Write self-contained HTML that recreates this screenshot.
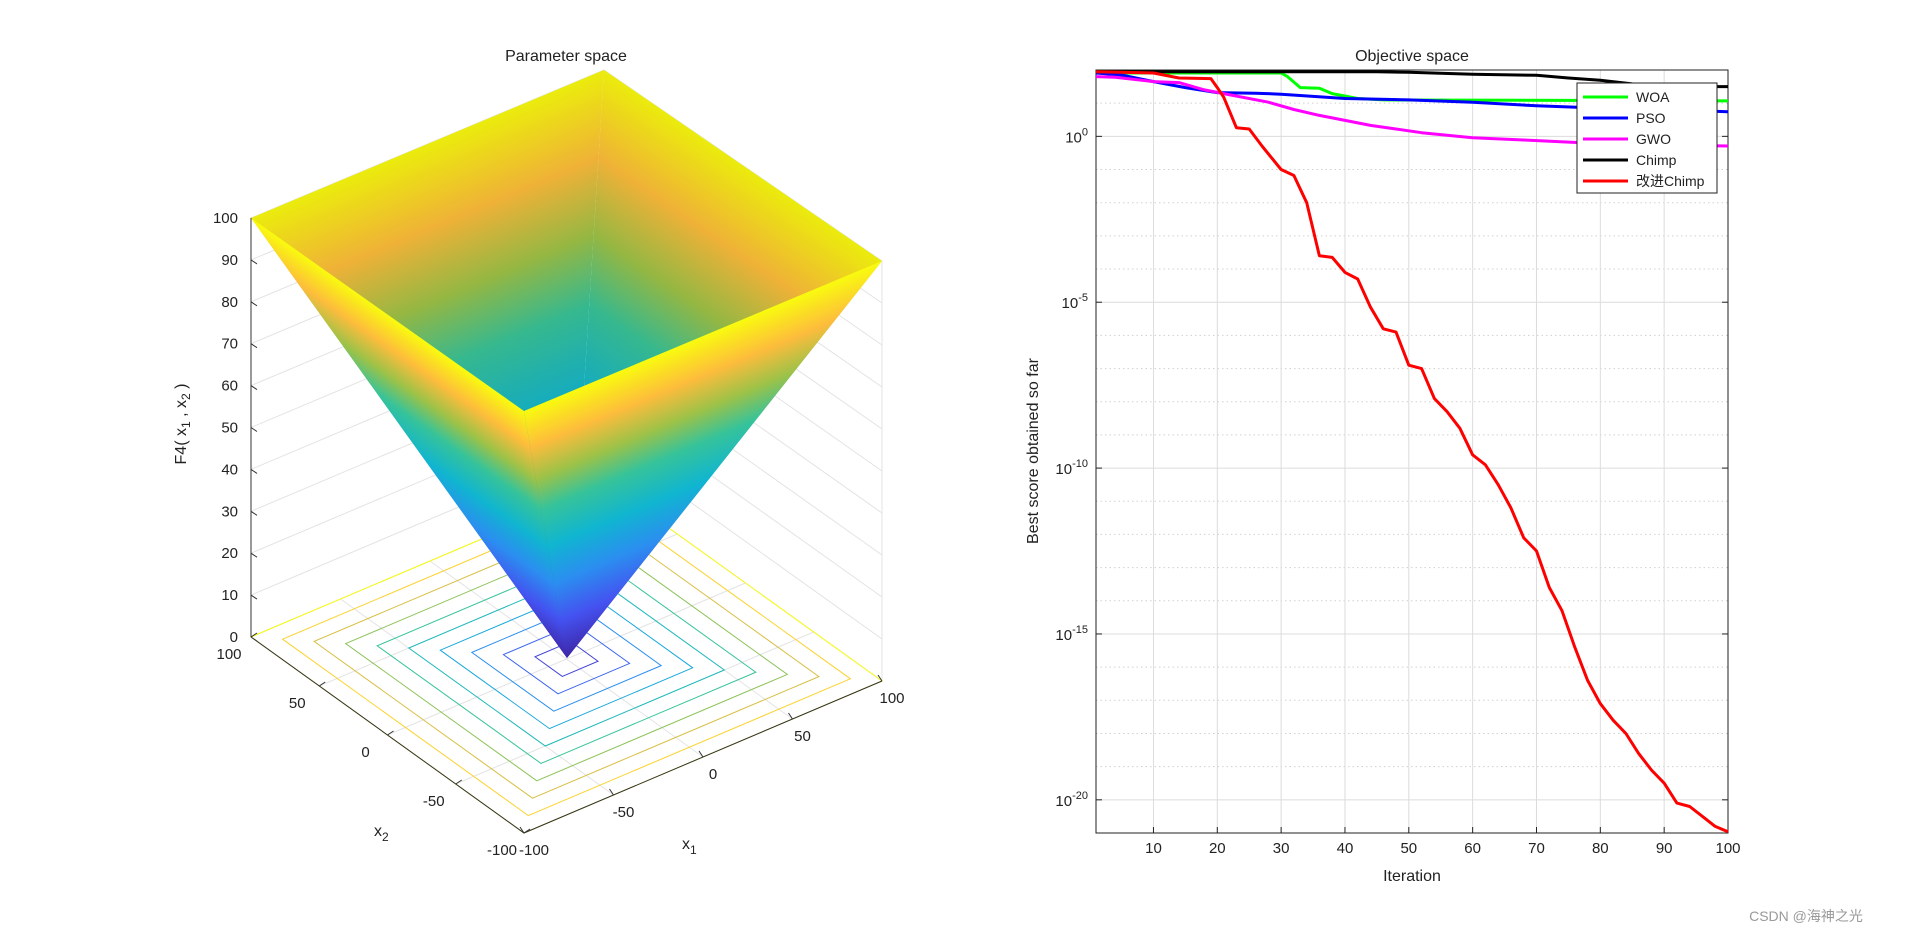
<!DOCTYPE html>
<html><head><meta charset="utf-8"><style>
html,body{margin:0;padding:0;background:#fff;}
svg{display:block;font-family:"Liberation Sans","Noto Sans CJK SC",sans-serif;}
</style></head><body>
<svg id="fig" width="1920" height="937" viewBox="0 0 1920 937" xmlns="http://www.w3.org/2000/svg">
<defs id="defs"></defs>
<g id="left"></g>
<g id="right"></g>
<text x="1806" y="921" font-size="14" fill="#999" text-anchor="middle">CSDN @海神之光</text>
</svg>
<script>
// ===== Convergence chart data =====
const iterWOA = [1,30,31,33,36,38,42,46,100];
const valWOA = [1.91,1.91,1.80,1.47,1.45,1.29,1.14,1.10,1.07];
const iterPSO = [1,5,10,15,20,26,30,40,50,60,70,80,90,100];
const valPSO = [1.91,1.85,1.65,1.47,1.32,1.30,1.27,1.14,1.10,1.03,0.92,0.85,0.81,0.74];
const iterGWO = [1,4,10,14,18,22,28,32,36,40,44,48,52,60,68,80,90,100];
const valGWO = [1.80,1.78,1.65,1.62,1.40,1.25,1.03,0.81,0.63,0.48,0.33,0.22,0.11,-0.04,-0.11,-0.22,-0.26,-0.29];
const iterChimp = [1,45,50,60,70,75,80,85,90,100];
const valChimp = [1.95,1.95,1.93,1.87,1.84,1.76,1.69,1.58,1.50,1.50];
const iterIChimp = [1,10,14,19,20,21,23,25,27,30,32,34,36,38,40,42,44,46,48,50,52,54,56,58,60,62,64,66,68,70,72,74,76,78,80,82,84,86,88,90,92,94,96,98,100];
const valIChimp = [1.95,1.91,1.76,1.74,1.47,1.18,0.26,0.22,-0.29,-1.0,-1.18,-2.0,-3.6,-3.65,-4.1,-4.3,-5.15,-5.8,-5.9,-6.9,-7.0,-7.9,-8.3,-8.8,-9.6,-9.9,-10.5,-11.2,-12.1,-12.5,-13.6,-14.3,-15.4,-16.4,-17.1,-17.6,-18.0,-18.6,-19.1,-19.5,-20.1,-20.2,-20.5,-20.8,-20.96];
const xTicks = [10,20,30,40,50,60,70,80,90,100];
const yTickExp = [0,-5,-10,-15,-20];
const seriesNames = ['WOA','PSO','GWO','Chimp','改进Chimp'];
const seriesColors = ['#00ff00','#0000ff','#ff00ff','#000000','#ff0000'];
// ===== 3D surface data =====
const zTicks = [0,10,20,30,40,50,60,70,80,90,100];
const x1Ticks = [-100,-50,0,50,100];
const x2Ticks = [-100,-50,0,50,100];
const contourLevels = [10,20,30,40,50,60,70,80,90,100];

const NS='http://www.w3.org/2000/svg';
function mk(tag,attrs,parent){const e=document.createElementNS(NS,tag);for(const k in attrs)e.setAttribute(k,attrs[k]);parent.appendChild(e);return e;}

// ---------- right chart ----------
const R=document.getElementById('right');
const L0=1096,R0=1728,T0=70,B0=833, yMin=-21,yMax=2;
const sx=v=>L0+(v-1)/(99)*(R0-L0);
const sy=e=>B0-(e-yMin)/(yMax-yMin)*(B0-T0);
for(let e=yMin+1;e<yMax;e++){
  const major=yTickExp.includes(e);
  const g=mk('line',{x1:L0,x2:R0,y1:sy(e),y2:sy(e),stroke:major?'#dcdcdc':'#d0d0d0','stroke-width':1,'stroke-dasharray':major?'':'1.5,3'},R);
  
  
}
xTicks.forEach(t=>{
  const g=mk('line',{x1:sx(t),x2:sx(t),y1:T0,y2:B0,stroke:'#dcdcdc','stroke-width':1},R);
  
  
  mk('line',{x1:sx(t),x2:sx(t),y1:B0,y2:B0-6,stroke:'#222'},R);
  const tx=mk('text',{x:sx(t),y:B0+20,'font-size':15,'text-anchor':'middle',fill:'#222'},R);
  tx.textContent=t;
  
  
});
yTickExp.forEach(e=>{
  mk('line',{x1:L0,x2:L0+6,y1:sy(e),y2:sy(e),stroke:'#222'},R);
  mk('line',{x1:R0,x2:R0-6,y1:sy(e),y2:sy(e),stroke:'#222'},R);
  const tx=mk('text',{x:L0-8,y:sy(e)+6,'font-size':15,'text-anchor':'end',fill:'#222'},R);
  tx.innerHTML='10<tspan dy="-7" font-size="11">'+e+'</tspan>';
  
  
});
const box=mk('rect',{x:L0,y:T0,width:R0-L0,height:B0-T0,fill:'none',stroke:'#222','stroke-width':1},R);


const allIt=[iterWOA,iterPSO,iterGWO,iterChimp,iterIChimp], allV=[valWOA,valPSO,valGWO,valChimp,valIChimp];
const clip=mk('clipPath',{id:'cp'},document.getElementById('defs'));
mk('rect',{x:L0,y:T0-2,width:R0-L0+2,height:B0-T0+4},clip);
allIt.forEach((its,i)=>{
  const d=its.map((t,j)=>(j?'L':'M')+sx(t).toFixed(1)+','+sy(allV[i][j]).toFixed(1)).join(' ');
  const p=mk('path',{d:d,fill:'none',stroke:seriesColors[i],'stroke-width':3,'stroke-linejoin':'round','clip-path':'url(#cp)'},R);
  
  
});
// legend
const lg=mk('g',{},R);


mk('rect',{x:1577,y:83,width:140,height:110,fill:'#fff',stroke:'#222','stroke-width':1},lg);
seriesNames.forEach((n,i)=>{
  const y=97+i*21;
  const ln=mk('line',{x1:1583,x2:1628,y1:y,y2:y,stroke:seriesColors[i],'stroke-width':3},lg);
  
  
  const t=mk('text',{x:1636,y:y+5,'font-size':14,fill:'#222'},lg);
  t.textContent=n;
  
  
});
let t=mk('text',{x:1412,y:61,'font-size':16,'text-anchor':'middle',fill:'#222'},R);t.textContent='Objective space';

t=mk('text',{x:1412,y:881,'font-size':16,'text-anchor':'middle',fill:'#222'},R);t.textContent='Iteration';

t=mk('text',{x:0,y:0,'font-size':16,'text-anchor':'middle',fill:'#222',transform:'translate(1038,451) rotate(-90)'},R);t.textContent='Best score obtained so far';


// ---------- left 3D ----------
const Lg=document.getElementById('left');
const Lc=[251,637],Fc=[524,833],Rc=[882,681],Bc=[609,485];
const Lt=[251,218],Ft=[524,411],Rt=[882,261],Bt=[604,70],Apex=[567,658];
function base(x1,x2){const u=(x1+100)/200,v=(x2+100)/200;
  return [Fc[0]+u*(Rc[0]-Fc[0])+v*(Lc[0]-Fc[0]), Fc[1]+u*(Rc[1]-Fc[1])+v*(Lc[1]-Fc[1])];}
const zy=(edgeBase,edgeTop,z)=>[edgeBase[0]+(edgeTop[0]-edgeBase[0])*z/100, edgeBase[1]+(edgeTop[1]-edgeBase[1])*z/100];
const gcol='#e3e3e3';
zTicks.forEach(z=>{
  const a=zy(Lc,Lt,z),b=zy(Bc,Bt,z),c=zy(Rc,Rt,z);
  const gl=mk('polyline',{points:a+' '+b+' '+c,fill:'none',stroke:gcol},Lg);
  
  mk('line',{x1:Lc[0],y1:a[1],x2:Lc[0]+6,y2:a[1]+4,stroke:'#333'},Lg);
  const tx=mk('text',{x:Lc[0]-13,y:a[1]+5,'font-size':15,'text-anchor':'end',fill:'#222'},Lg);
  tx.textContent=z;
});
x1Ticks.forEach(v=>{
  const a=base(v,-100),b=base(v,100);
  mk('line',{x1:a[0],y1:a[1],x2:b[0],y2:b[1],stroke:gcol},Lg);
});
x2Ticks.forEach(v=>{
  const a=base(-100,v),b=base(100,v);
  mk('line',{x1:a[0],y1:a[1],x2:b[0],y2:b[1],stroke:gcol},Lg);
});
mk('line',{x1:Bc[0],y1:Bc[1],x2:Bt[0],y2:Bt[1],stroke:gcol},Lg);
mk('line',{x1:Rc[0],y1:Rc[1],x2:Rt[0],y2:Rt[1],stroke:gcol},Lg);
const cmap=[[0,'#3e26a8'],[0.15,'#4452f0'],[0.3,'#2b8ef0'],[0.45,'#10b5d0'],[0.6,'#36c39a'],[0.72,'#9cc248'],[0.85,'#fdbc3c'],[1,'#f9fb0e']];
function col(f){for(let i=1;i<cmap.length;i++){if(f<=cmap[i][0]){const [a,ca]=cmap[i-1],[b,cb]=cmap[i];const t=(f-a)/(b-a);
  const p=h=>[1,3,5].map(k=>parseInt(h.substr(k,2),16));const A=p(ca),B=p(cb);
  return 'rgb('+A.map((x,j)=>Math.round(x+(B[j]-x)*t)).join(',')+')';}}return cmap[cmap.length-1][1];}
contourLevels.forEach(lv=>{
  const pts=[base(-lv,-lv),base(lv,-lv),base(lv,lv),base(-lv,lv)].map(p=>p.map(x=>x.toFixed(1)).join(',')).join(' ');
  const c=mk('polygon',{points:pts,fill:'none',stroke:col(lv/100),'stroke-width':1},Lg);
  
});
const defs=document.getElementById('defs');
function face(id,p1,p2,name,shade){
  const dx=p2[0]-p1[0],dy=p2[1]-p1[1];let tt=((Apex[0]-p1[0])*dx+(Apex[1]-p1[1])*dy)/(dx*dx+dy*dy);
  const q=[p1[0]+tt*dx,p1[1]+tt*dy];
  const g=mk('linearGradient',{id:id,gradientUnits:'userSpaceOnUse',x1:Apex[0],y1:Apex[1],x2:q[0],y2:q[1]},defs);
  cmap.forEach(([o,c])=>mk('stop',{offset:o,'stop-color':c},g));
  const pts=[Apex,p1,p2].map(p=>p.join(',')).join(' ');
  const f=mk('polygon',{points:pts,fill:'url(#'+id+')'},Lg);
  
  if(shade)mk('polygon',{points:pts,fill:shade},Lg);
}
face('gb1',Lt,Bt,'surface-back-left','rgba(60,40,0,0.07)');
face('gb2',Bt,Rt,'surface-back-right','rgba(60,40,0,0.07)');
face('gf1',Lt,Ft,'surface-front-left');
face('gf2',Ft,Rt,'surface-front-right');
mk('line',{x1:Lc[0],y1:Lc[1],x2:Lt[0],y2:Lt[1],stroke:'#333'},Lg);
mk('polyline',{points:Lc+' '+Fc+' '+Rc,fill:'none',stroke:'#333'},Lg);
x1Ticks.forEach(v=>{const p=base(v,-100);
  mk('line',{x1:p[0],y1:p[1],x2:p[0]-4,y2:p[1]-6,stroke:'#333'},Lg);
  const tx=mk('text',{x:p[0]+10,y:p[1]+22,'font-size':15,'text-anchor':'middle',fill:'#222'},Lg);
  tx.textContent=v;});
x2Ticks.forEach(v=>{const p=base(-100,v);
  mk('line',{x1:p[0],y1:p[1],x2:p[0]+6,y2:p[1]-4,stroke:'#333'},Lg);
  const tx=mk('text',{x:p[0]-22,y:p[1]+22,'font-size':15,'text-anchor':'middle',fill:'#222'},Lg);
  tx.textContent=v;});
t=mk('text',{x:566,y:61,'font-size':16,'text-anchor':'middle',fill:'#222'},Lg);t.textContent='Parameter space';

t=mk('text',{x:0,y:0,'font-size':16,'text-anchor':'middle',fill:'#222',transform:'translate(186,424) rotate(-90)'},Lg);
t.innerHTML='F4( x<tspan dy="4" font-size="12">1</tspan><tspan dy="-4"> , x</tspan><tspan dy="4" font-size="12">2</tspan><tspan dy="-4"> )</tspan>';

t=mk('text',{x:374,y:836,'font-size':16,fill:'#222'},Lg);t.innerHTML='x<tspan dy="5" font-size="12">2</tspan>';

t=mk('text',{x:682,y:849,'font-size':16,fill:'#222'},Lg);t.innerHTML='x<tspan dy="5" font-size="12">1</tspan>';

</script>
</body></html>
